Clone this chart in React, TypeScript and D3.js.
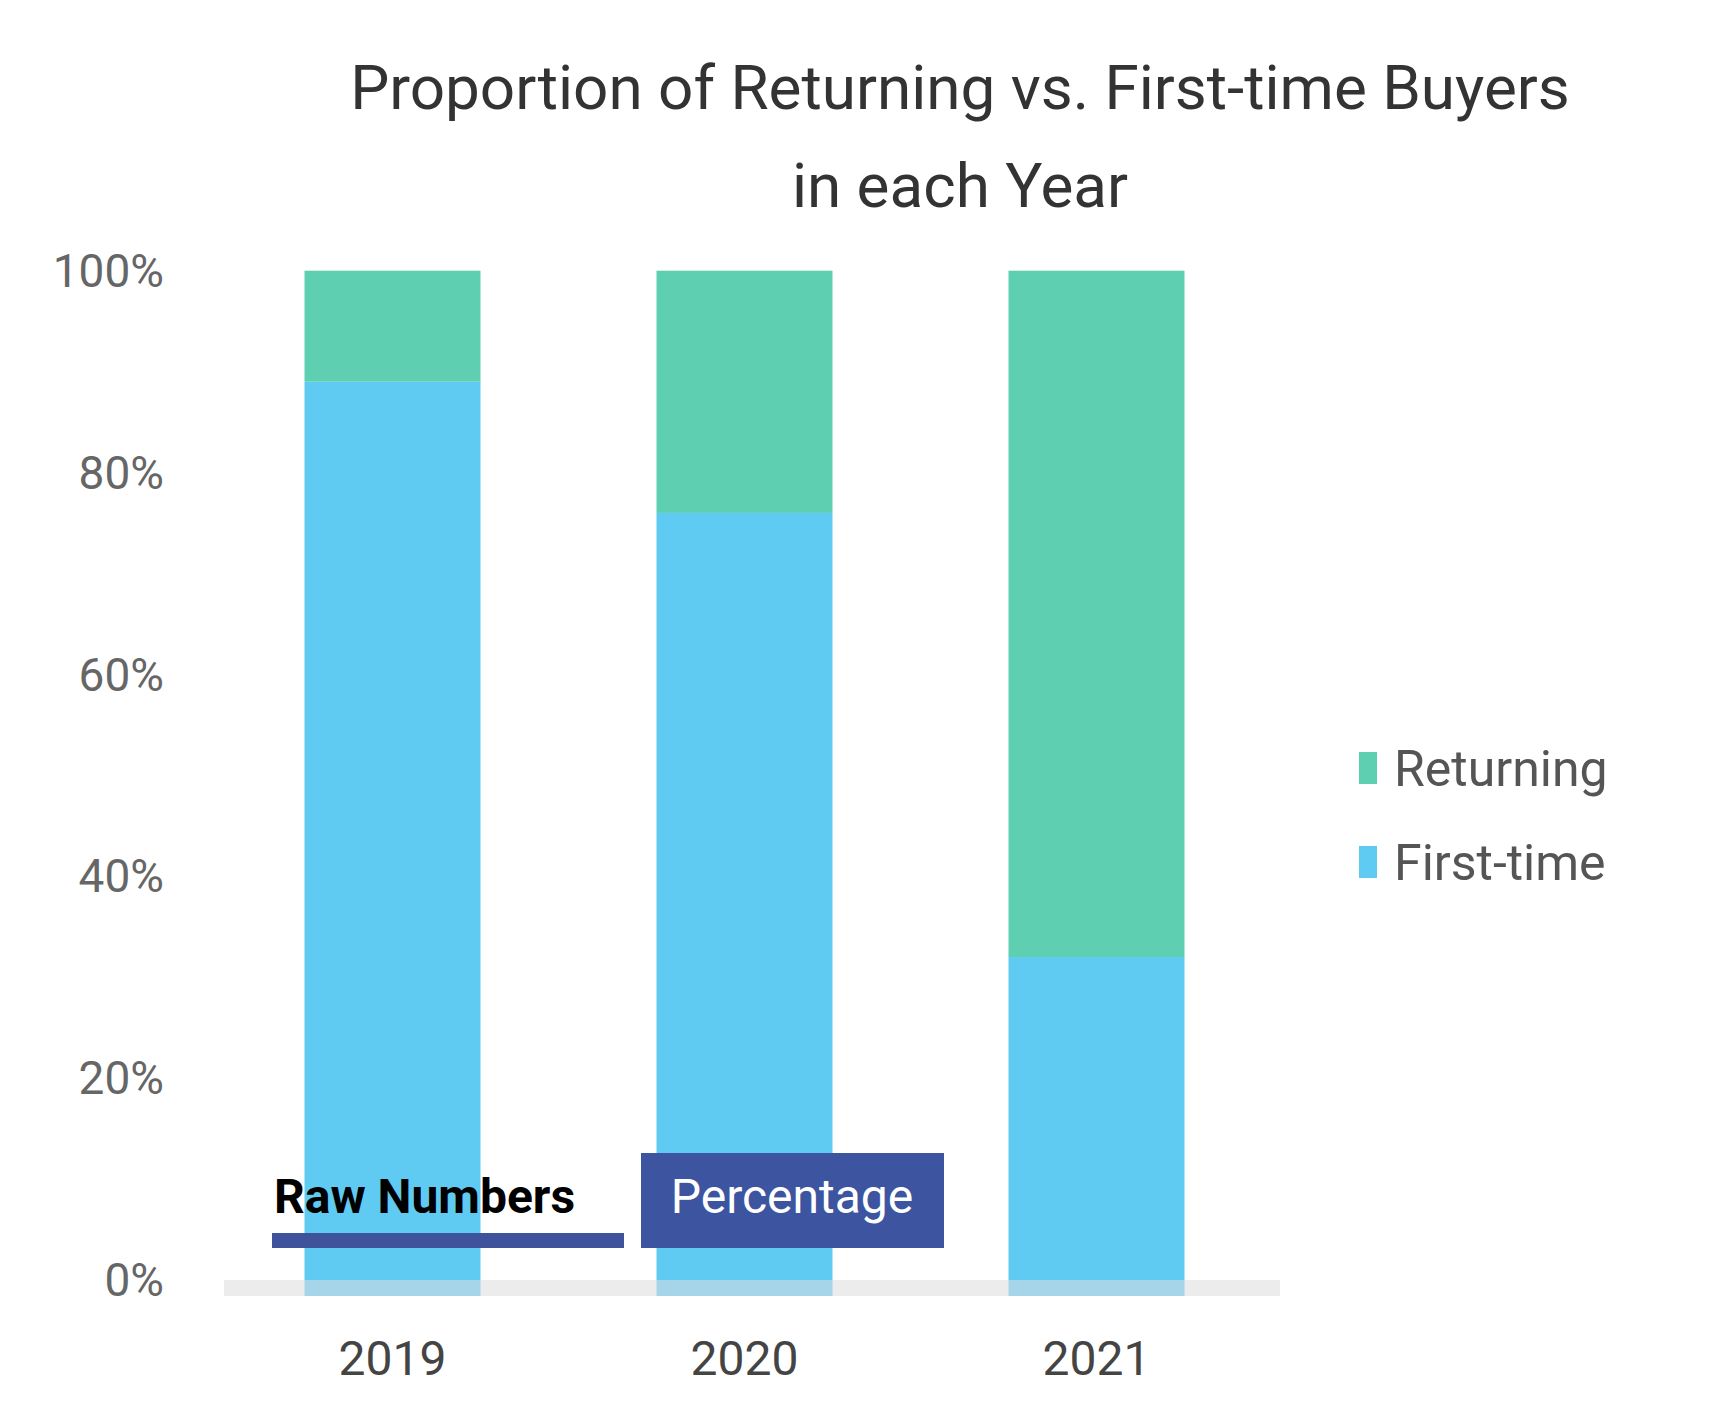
import React, { useRef, useEffect } from "react";
import * as d3 from "d3";

const WIDTH = 1694;
const HEIGHT = 1406;
const PLOT = { left: 208.5, right: 1264.5, top: 262.7, bottom: 1272 };

const titleLines = ["Proportion of Returning vs. First-time Buyers", "in each Year"];
const years = ["2019", "2020", "2021"];
const returning = [11, 24, 68];
const firstTime = [89, 76, 32];
const yTicks = [0, 20, 40, 60, 80, 100];
const seriesNames = ["Returning", "First-time"];
const seriesColors = ["#5ecfb1", "#5fcbf3"];
const toggleLabels = ["Raw Numbers", "Percentage"];

const FONT = "Roboto, 'Open Sans', sans-serif";

export default function App() {
  const svgRef = useRef<SVGSVGElement | null>(null);

  useEffect(() => {
    const svg = d3.select(svgRef.current);
    svg.selectAll("*").remove();

    const rows = years.map((year, i) => ({
      year,
      firstTime: firstTime[i],
      returning: returning[i],
    }));

    // Scales
    const x = d3
      .scaleBand<string>()
      .domain(years)
      .range([PLOT.left, PLOT.right])
      .paddingInner(0.5)
      .paddingOuter(0.25);
    const y = d3.scaleLinear().domain([0, 100]).range([PLOT.bottom, PLOT.top]);

    // Title
    svg
      .append("g")
      .selectAll("text")
      .data(titleLines)
      .enter()
      .append("text")
      .attr("x", 952)
      .attr("y", (_, i) => 101 + i * 98)
      .attr("text-anchor", "middle")
      .attr("font-family", FONT)
      .attr("font-size", 62)
      .attr("fill", "#333")
      .text((d) => d);

    // Stacked bars: blue on the bottom, green on top
    const stack = d3.stack<any>().keys(["firstTime", "returning"]);
    const layers = stack(rows);
    svg
      .append("g")
      .selectAll("g")
      .data(layers)
      .enter()
      .append("g")
      .attr("fill", (_, i) => seriesColors[1 - i])
      .selectAll("rect")
      .data((d) => d)
      .enter()
      .append("rect")
      .attr("x", (d) => x(d.data.year)!)
      .attr("width", x.bandwidth())
      .attr("y", (d) => y(d[1]))
      .attr("height", (d) => y(d[0]) - y(d[1]));

    // Baseline band
    svg
      .append("rect")
      .attr("x", PLOT.left + 7.5)
      .attr("y", PLOT.bottom)
      .attr("width", PLOT.right - PLOT.left)
      .attr("height", 16)
      .attr("fill", "#ececec");
    svg
      .append("g")
      .selectAll("rect")
      .data(years)
      .enter()
      .append("rect")
      .attr("x", (d) => x(d)!)
      .attr("y", PLOT.bottom)
      .attr("width", x.bandwidth())
      .attr("height", 16)
      .attr("fill", "#a6d4e8");

    // Y axis labels
    svg
      .append("g")
      .selectAll("text")
      .data(yTicks)
      .enter()
      .append("text")
      .attr("x", 156)
      .attr("y", (d) => y(d))
      .attr("dy", "0.35em")
      .attr("text-anchor", "end")
      .attr("font-family", FONT)
      .attr("font-size", 46)
      .attr("fill", "#666")
      .text((d) => `${d}%`);

    // X axis labels
    svg
      .append("g")
      .selectAll("text")
      .data(years)
      .enter()
      .append("text")
      .attr("x", (d) => x(d)! + x.bandwidth() / 2)
      .attr("y", 1367)
      .attr("text-anchor", "middle")
      .attr("font-family", FONT)
      .attr("font-size", 48)
      .attr("fill", "#444")
      .text((d) => d);

    // Legend
    const legend = svg
      .append("g")
      .selectAll("g")
      .data(seriesNames)
      .enter()
      .append("g")
      .attr("transform", (_, i) => `translate(1351,${760 + i * 94})`);
    legend
      .append("rect")
      .attr("x", 0)
      .attr("y", -16)
      .attr("width", 18)
      .attr("height", 32)
      .attr("fill", (_, i) => seriesColors[i]);
    legend
      .append("text")
      .attr("x", 35)
      .attr("dy", "0.35em")
      .attr("font-family", FONT)
      .attr("font-size", 50)
      .attr("fill", "#555")
      .text((d) => d);

    // Toggle buttons
    const toggle = svg.append("g").attr("transform", "translate(264,1145)");
    toggle
      .append("text")
      .attr("x", 2)
      .attr("y", 60)
      .attr("font-family", FONT)
      .attr("font-size", 48)
      .attr("font-weight", 700)
      .attr("fill", "#000")
      .text(toggleLabels[0]);
    toggle
      .append("rect")
      .attr("x", 0)
      .attr("y", 80)
      .attr("width", 352)
      .attr("height", 15)
      .attr("fill", "#3f539c");
    toggle
      .append("rect")
      .attr("x", 369)
      .attr("y", 0)
      .attr("width", 303)
      .attr("height", 95)
      .attr("fill", "#3d55a0");
    toggle
      .append("text")
      .attr("x", 520)
      .attr("y", 60)
      .attr("text-anchor", "middle")
      .attr("font-family", FONT)
      .attr("font-size", 48)
      .attr("fill", "#fff")
      .text(toggleLabels[1]);
  }, []);

  return (
    <svg
      ref={svgRef}
      width={WIDTH}
      height={HEIGHT}
      style={{ display: "block", background: "#fff" }}
    />
  );
}
